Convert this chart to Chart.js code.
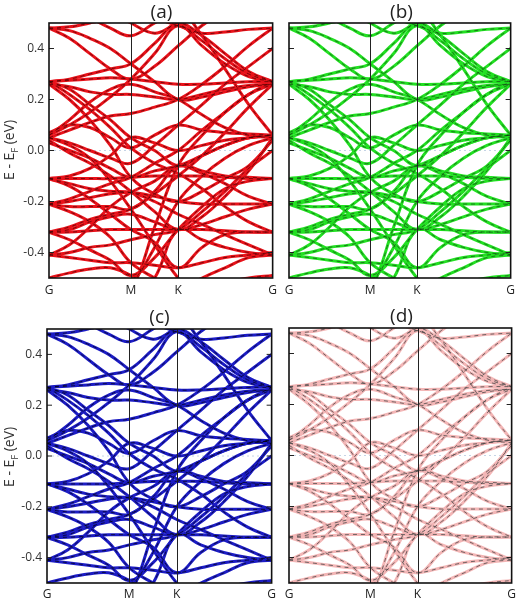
<!DOCTYPE html>
<html>
<head>
<meta charset="utf-8">
<script src="https://cdn.jsdelivr.net/npm/chart.js@4.4.1/dist/chart.umd.min.js"></script>
<style>
  body { margin: 0; background: #fff; }
  #wrap { position: relative; width: 520px; height: 602px; overflow: hidden; font-family: "Open Sans", sans-serif; }
  canvas { position: absolute; }
  .ptitle { position: absolute; width: 225px; text-align: center; font-size: 19px; color: #222; line-height: 24px; }
  .ytitle { position: absolute; width: 140px; text-align: center; font-size: 14px; color: #333;
            transform: rotate(-90deg); transform-origin: center center; }
  .ytitle sub { font-size: 9px; }
</style>
</head>
<body>
<div id="wrap">
  <canvas id="pa" width="282" height="300" style="left:0;top:0"></canvas>
  <canvas id="pb" width="260" height="300" style="left:260px;top:0"></canvas>
  <canvas id="pc" width="280" height="302" style="left:0;top:300px"></canvas>
  <canvas id="pd" width="260" height="302" style="left:260px;top:300px"></canvas>
  <div class="ptitle" style="left:49px;top:-1px">(a)</div>
  <div class="ptitle" style="left:289px;top:-1px">(b)</div>
  <div class="ptitle" style="left:47px;top:304px">(c)</div>
  <div class="ptitle" style="left:289px;top:303px">(d)</div>
  <div class="ytitle" style="left:-60px;top:139px">E - E<sub>F</sub> (eV)</div>
  <div class="ytitle" style="left:-60px;top:446px">E - E<sub>F</sub> (eV)</div>
</div>
<script>
// k-path positions (G -> M -> K -> G, hexagonal BZ, |GM| = 1)
const KPTS = [0, 0.25, 0.5, 0.75, 1, 1.29, 1.577, 1.87, 2.15, 2.44, 2.732];
const SYM_POS = [0, 1, 1.577, 2.732];
const SYM_LABELS = ['G', 'M', 'K', 'G'];
const Y_TICKS = [-0.4, -0.2, 0, 0.2, 0.4];

// band energies (eV) read at KPTS
const BANDS = [
  [0.48, 0.47, 0.44, 0.40, 0.34, 0.27, 0.20, 0.21, 0.23, 0.25, 0.26],
  [0.27, 0.28, 0.30, 0.32, 0.34, 0.42, 0.50, 0.45, 0.38, 0.31, 0.27],
  [0.48, 0.485, 0.50, 0.52, 0.55, 0.52, 0.49, 0.46, 0.465, 0.475, 0.48],
  [0.27, 0.24, 0.18, 0.12, 0.05, 0.00, -0.06, -0.02, 0.02, 0.05, 0.06],
  [0.27, 0.275, 0.28, 0.285, 0.28, 0.27, 0.26, 0.26, 0.265, 0.27, 0.27],
  [0.26, 0.25, 0.23, 0.22, 0.22, 0.21, 0.20, 0.22, 0.24, 0.255, 0.26],
  [0.05, 0.08, 0.11, 0.135, 0.145, 0.17, 0.20, 0.26, 0.33, 0.41, 0.48],
  [0.06, 0.10, 0.15, 0.21, 0.28, 0.38, 0.49, 0.41, 0.34, 0.29, 0.27],
  [0.07, 0.10, 0.09, 0.05, 0.01, 0.06, 0.10, 0.08, 0.07, 0.065, 0.06],
  [0.04, -0.01, -0.05, -0.10, -0.16, -0.24, -0.31, -0.26, -0.18, -0.08, 0.05],
  [0.03, 0.00, -0.03, -0.07, -0.105, -0.08, -0.06, -0.02, 0.02, 0.05, 0.06],
  [-0.11, -0.10, -0.07, -0.02, 0.05, 0.03, 0.00, 0.02, 0.04, 0.05, 0.06],
  [-0.11, -0.11, -0.11, -0.11, -0.105, -0.10, -0.10, -0.10, -0.105, -0.11, -0.11],
  [-0.11, -0.13, -0.15, -0.16, -0.165, -0.20, -0.25, -0.29, -0.33, -0.37, -0.41],
  [-0.21, -0.20, -0.185, -0.17, -0.165, -0.18, -0.20, -0.21, -0.21, -0.21, -0.21],
  [-0.21, -0.19, -0.16, -0.13, -0.105, -0.05, 0.00, 0.08, 0.15, 0.22, 0.27],
  [-0.32, -0.32, -0.315, -0.31, -0.31, -0.31, -0.31, -0.31, -0.315, -0.32, -0.32],
  [-0.32, -0.31, -0.28, -0.26, -0.25, -0.28, -0.31, -0.29, -0.26, -0.23, -0.21],
  [-0.41, -0.40, -0.38, -0.37, -0.35, -0.33, -0.31, -0.24, -0.16, -0.07, 0.00],
  [-0.41, -0.42, -0.43, -0.44, -0.44, -0.45, -0.46, -0.44, -0.42, -0.41, -0.40],
  [-0.50, -0.48, -0.465, -0.46, -0.49, -0.55, -0.60, -0.56, -0.52, -0.50, -0.49],
  [-0.62, -0.60, -0.57, -0.55, -0.52, -0.38, -0.20, -0.10, -0.03, 0.02, 0.05],
  [-0.70, -0.68, -0.64, -0.60, -0.55, -0.30, -0.06, 0.06, 0.15, 0.22, 0.26],
  [0.27, 0.22, 0.16, 0.09, 0.01, -0.05, -0.09, -0.15, -0.22, -0.28, -0.32],
  [0.05, 0.03, 0.00, -0.03, -0.05, 0.02, 0.10, 0.18, 0.26, 0.33, 0.40],
  [0.60, 0.56, 0.52, 0.48, 0.45, 0.50, 0.55, 0.45, 0.32, 0.18, 0.06],
  [-0.32, -0.35, -0.39, -0.43, -0.49, -0.42, -0.31, -0.22, -0.15, -0.12, -0.11],
  [-0.21, -0.24, -0.28, -0.34, -0.44, -0.50, -0.55, -0.50, -0.46, -0.42, -0.41],
  [0.05, 0.02, -0.03, -0.12, -0.23, -0.37, -0.50, -0.60, -0.60, -0.60, -0.60],
  [0.70, 0.65, 0.60, 0.55, 0.50, 0.46, 0.49, 0.43, 0.36, 0.30, 0.27],
  [-0.50, -0.52, -0.55, -0.58, -0.60, -0.50, -0.31, -0.35, -0.38, -0.40, -0.41],
  [-0.21, -0.22, -0.22, -0.22, -0.23, -0.16, -0.06, -0.08, -0.10, -0.105, -0.11],
  [0.26, 0.20, 0.12, 0.02, -0.105, -0.17, -0.20, -0.16, -0.11, -0.06, 0.04],
  [-0.32, -0.30, -0.27, -0.25, -0.23, -0.17, -0.10, -0.02, 0.07, 0.17, 0.26],
  [0.06, 0.12, 0.19, 0.24, 0.26, 0.23, 0.20, 0.14, 0.09, 0.06, 0.05],
  [-0.41, -0.37, -0.30, -0.22, -0.165, -0.12, -0.06, -0.09, -0.13, -0.18, -0.21],
  [0.48, 0.44, 0.38, 0.32, 0.28, 0.33, 0.41, 0.49, 0.55, 0.60, 0.60],
  [-0.11, -0.14, -0.19, -0.25, -0.31, -0.36, -0.46, -0.38, -0.33, -0.32, -0.32]
];

const PANELS = [
  { id: 'pa', color: '#e8121a', dash: 'rgba(60,0,0,0.7)', labels: true,  pad: { top: 23, right: 8 }, yw: 49, xh: 22, tickPad: 5 },
  { id: 'pb', color: '#22e022', dash: 'rgba(20,60,20,0.7)', labels: false, pad: { top: 23, right: 7 }, yw: 29, xh: 22, tickPad: 5 },
  { id: 'pc', color: '#1c1cc4', dash: 'rgba(0,0,0,0.7)', labels: true,  pad: { top: 29, right: 8 }, yw: 47, xh: 19, tickPad: 4 },
  { id: 'pd', color: '#f3b6b6', dash: 'rgba(70,70,70,0.85)', labels: false, pad: { top: 28, right: 7 }, yw: 29, xh: 19, tickPad: 4 }
];

const framePlugin = {
  id: 'frame',
  beforeDatasetsDraw(chart) {
    const { ctx, chartArea: a, scales: { y } } = chart;
    const py = y.getPixelForValue(0);
    ctx.save();
    ctx.strokeStyle = '#c6d4e6';
    ctx.lineWidth = 1;
    ctx.setLineDash([2, 3]);
    ctx.beginPath();
    ctx.moveTo(a.left, py);
    ctx.lineTo(a.right, py);
    ctx.stroke();
    ctx.restore();
  },
  afterDraw(chart) {
    const { ctx, chartArea: a, scales: { x, y } } = chart;
    ctx.save();
    ctx.strokeStyle = '#222';
    ctx.lineWidth = 1;
    ctx.beginPath();
    [1, 1.577].forEach(v => {
      const px = Math.round(x.getPixelForValue(v)) + 0.5;
      ctx.moveTo(px, a.top);
      ctx.lineTo(px, a.bottom);
    });
    Y_TICKS.forEach(v => {
      const py = y.getPixelForValue(v);
      ctx.moveTo(a.left, py); ctx.lineTo(a.left + 5, py);
      ctx.moveTo(a.right, py); ctx.lineTo(a.right - 5, py);
    });
    ctx.stroke();
    ctx.lineWidth = 1.6;
    ctx.strokeStyle = '#111';
    ctx.strokeRect(a.left, a.top, a.right - a.left, a.bottom - a.top);
    ctx.restore();
  }
};

PANELS.forEach(p => {
  // Chart.js paints the first dataset last, so the dashed overlay goes first
  const dashed = BANDS.map(b => ({
    data: b.map((e, i) => ({ x: KPTS[i], y: e })),
    borderColor: p.dash,
    borderWidth: 0.9,
    borderDash: [4, 4],
    pointRadius: 0,
    tension: 0.4,
    fill: false
  }));
  const solid = BANDS.map(b => ({
    data: b.map((e, i) => ({ x: KPTS[i], y: e })),
    borderColor: p.color,
    borderWidth: 3,
    pointRadius: 0,
    tension: 0.4,
    fill: false
  }));

  new Chart(document.getElementById(p.id), {
    type: 'line',
    data: { datasets: dashed.concat(solid) },
    options: {
      responsive: false,
      animation: false,
      events: [],
      layout: { padding: { top: p.pad.top, right: p.pad.right, left: 0, bottom: 0 } },
      plugins: { legend: { display: false }, tooltip: { enabled: false } },
      scales: {
        x: {
          type: 'linear',
          min: 0,
          max: 2.732,
          afterBuildTicks: s => { s.ticks = SYM_POS.map(v => ({ value: v })); },
          afterFit: s => { s.height = p.xh; },
          grid: { display: false, drawTicks: false, tickLength: 0 },
          border: { display: false },
          ticks: {
            padding: p.tickPad,
            maxRotation: 0,
            autoSkip: false,
            color: '#222',
            font: { family: 'Open Sans', size: 12 },
            callback: (v, i) => SYM_LABELS[i]
          }
        },
        y: {
          type: 'linear',
          min: -0.5,
          max: 0.5,
          afterBuildTicks: s => { s.ticks = Y_TICKS.map(v => ({ value: v })); },
          afterFit: s => { s.width = p.yw; },
          grid: { display: false, drawTicks: false, tickLength: 0 },
          border: { display: false },
          ticks: {
            display: p.labels,
            padding: 5,
            color: '#333',
            font: { family: 'Open Sans', size: 12 },
            callback: v => v.toFixed(1)
          }
        }
      }
    },
    plugins: [framePlugin]
  });
});
</script>
</body>
</html>
